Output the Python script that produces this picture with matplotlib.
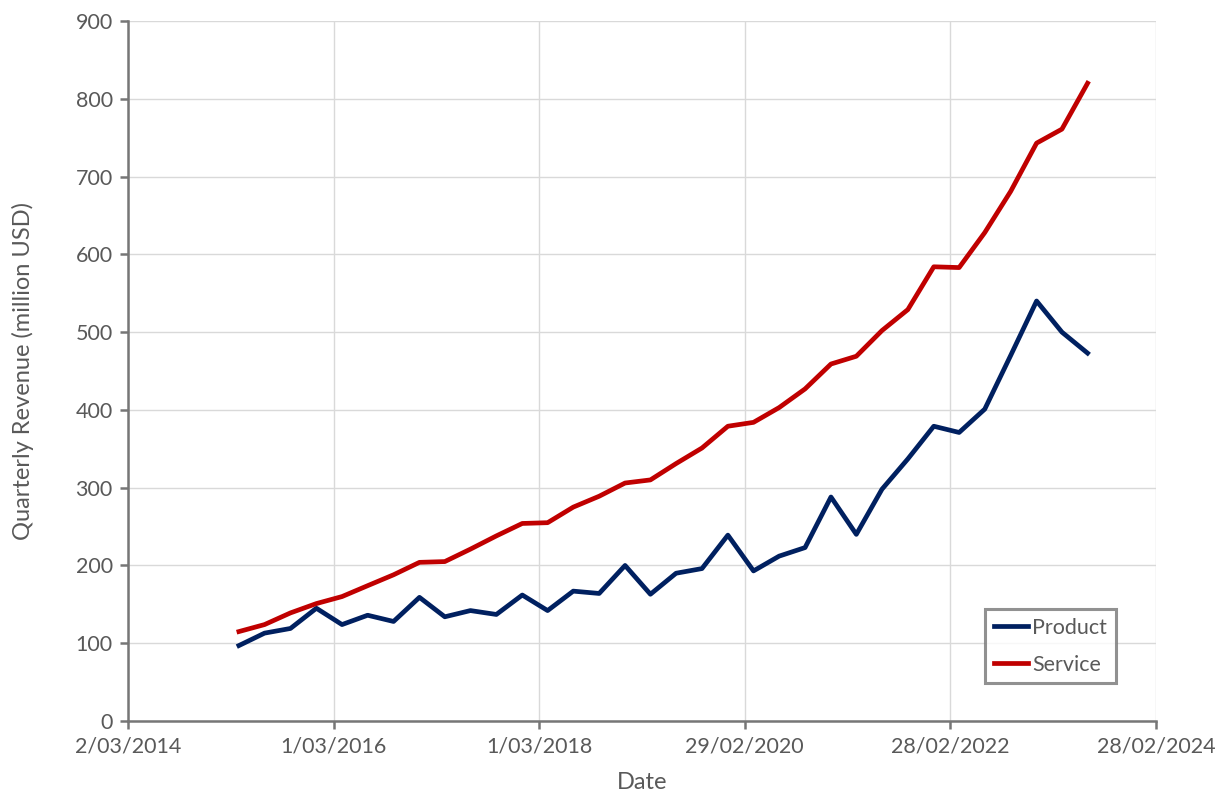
import numpy as np
import pandas as pd
import matplotlib
matplotlib.use("Agg")
import matplotlib.pyplot as plt
import matplotlib.dates as mdates
from matplotlib.ticker import FuncFormatter

plt.rcParams["font.family"] = ["Lato", "DejaVu Sans"]

# quarterly revenue, million USD
dates = pd.date_range("2015-03-31", periods=34, freq="QE")
product = [97, 113, 119, 145, 124, 136, 128, 159, 134, 142, 137, 162, 142, 167, 164, 200, 163,
           190, 196, 239, 193, 212, 223, 288, 240, 298, 337, 379, 371, 401, 470, 540, 500, 473]
service = [115, 124, 139, 151, 160, 174, 188, 204, 205, 221, 238, 254, 255, 275, 289, 306, 310,
           331, 351, 379, 384, 403, 427, 459, 469, 502, 529, 584, 583, 628, 681, 743, 761, 820]

x_start = pd.Timestamp("2014-03-02")
x_end = pd.Timestamp("2024-02-28")
tick_step_days = 730

grey_txt = "#595959"
grey_ax = "#767676"
grid_col = "#D9D9D9"

fig = plt.figure(figsize=(12.22, 7.99), dpi=100)
ax = fig.add_axes([0.1047, 0.0976, 0.8413, 0.8761])

ax.plot(dates, product, color="#002060", lw=3.4, label="Product", solid_joinstyle="round", zorder=3)
ax.plot(dates, service, color="#C00000", lw=3.4, label="Service", solid_joinstyle="round", zorder=3)

x0 = mdates.date2num(x_start)
x1 = mdates.date2num(x_end)
ax.set_xlim(x0, x1)
ax.set_ylim(0, 900)
ax.set_xticks(np.arange(x0, x1 + 1, tick_step_days))
ax.set_yticks(np.arange(0, 901, 100))


def fmt_date(v, pos):
    d = mdates.num2date(v)
    return f"{d.day}/{d.month:02d}/{d.year}"


ax.xaxis.set_major_formatter(FuncFormatter(fmt_date))

ax.grid(True, color=grid_col, lw=1)
ax.set_axisbelow(True)
for s in ["top", "right"]:
    ax.spines[s].set_visible(False)
for s in ["left", "bottom"]:
    ax.spines[s].set_color(grey_ax)
    ax.spines[s].set_linewidth(1.8)
ax.tick_params(axis="both", colors=grey_ax, width=1.8, length=6, direction="out",
               labelsize=15.5, labelcolor=grey_txt, pad=5)

ax.set_xlabel("Date", fontsize=17, color=grey_txt, labelpad=11)
ax.set_ylabel("Quarterly Revenue (million USD)", fontsize=17, color=grey_txt, labelpad=30)

leg = ax.legend(loc="lower right", bbox_to_anchor=(0.961, 0.054), borderaxespad=0,
                fontsize=15.5, frameon=True, fancybox=False, handlelength=1.6,
                handletextpad=0.2, borderpad=0.4, labelspacing=0.78, edgecolor=grey_ax)
leg.get_frame().set_linewidth(2.2)
for t in leg.get_texts():
    t.set_color(grey_txt)

fig.savefig("out.png", dpi=100)
